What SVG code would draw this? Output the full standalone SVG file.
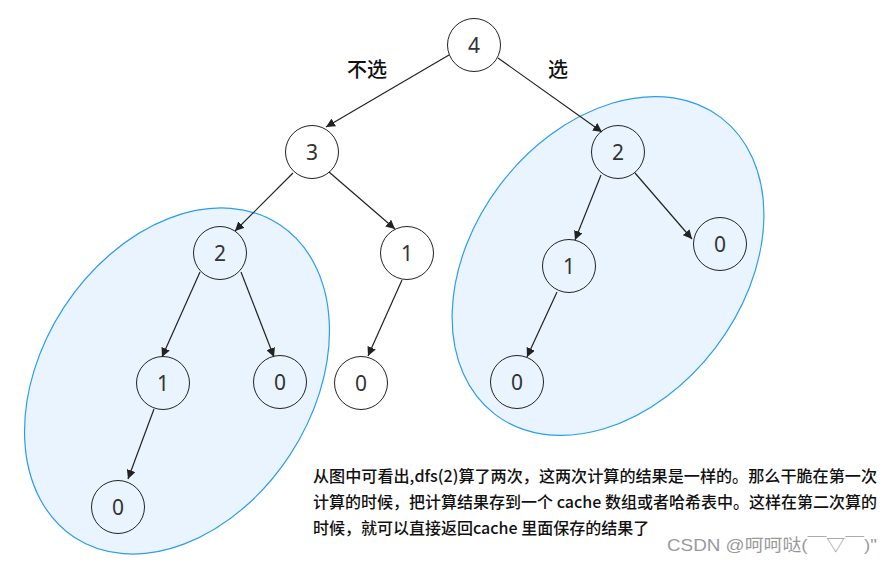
<svg xmlns="http://www.w3.org/2000/svg" width="894" height="565" viewBox="0 0 894 565">
<defs>
<marker id="ah" viewBox="0 0 10 10" refX="10" refY="5" markerWidth="9" markerHeight="9" markerUnits="userSpaceOnUse" orient="auto">
<path d="M0,0 L10,5 L0,10 z" fill="#222"/>
</marker>
</defs>
<style>
.grp{fill:#eaf4fe;stroke:#2a9df0;stroke-width:1.2}
.node circle{fill:none;stroke:#222;stroke-width:1}
.node text{font-family:"Noto Sans","Open Sans",sans-serif;font-size:21px;fill:#333;text-anchor:middle;dominant-baseline:central}
.edge{stroke:#222;stroke-width:1.2;fill:none;marker-end:url(#ah)}
.lbl{font-family:"Noto Sans CJK SC",sans-serif;font-size:20px;font-weight:500;fill:#111}
.para{font-family:"Noto Sans CJK SC",sans-serif;font-size:16px;font-weight:500;fill:#111}
.wm{font-family:"Liberation Sans","Noto Sans CJK SC",sans-serif;font-size:17px;fill:#9a9a9a}
</style>
<rect width="894" height="565" fill="#fff"/>
<g id="groups">
<ellipse class="grp" cx="177" cy="381" rx="187" ry="135" transform="rotate(-56.8 177 381)"/>
<ellipse class="grp" cx="608" cy="266" rx="186.5" ry="135" transform="rotate(-52.7 608 266)"/>
</g>
<g id="connectors">
<line class="edge" x1="449" y1="55" x2="326" y2="127"/>
<line class="edge" x1="498" y1="58" x2="602" y2="132"/>
<line class="edge" x1="293" y1="173" x2="235" y2="231"/>
<line class="edge" x1="329" y1="172" x2="395" y2="229"/>
<line class="edge" x1="402" y1="280" x2="368" y2="356"/>
<line class="edge" x1="200" y1="272" x2="162" y2="357"/>
<line class="edge" x1="241" y1="272" x2="274" y2="357"/>
<line class="edge" x1="154" y1="409" x2="128" y2="479"/>
<line class="edge" x1="601" y1="175" x2="575" y2="240"/>
<line class="edge" x1="635" y1="173" x2="692" y2="239"/>
<line class="edge" x1="557" y1="292" x2="527" y2="357"/>
</g>
<g id="n4" class="node"><circle cx="474" cy="45" r="26.5"/><text x="474" y="45">4</text></g>
<g id="n3" class="node"><circle cx="312" cy="152" r="26.5"/><text x="312" y="152">3</text></g>
<g id="n2L" class="node"><circle cx="220" cy="253" r="26.5"/><text x="220" y="253">2</text></g>
<g id="n1M" class="node"><circle cx="407" cy="253" r="26.5"/><text x="407" y="253">1</text></g>
<g id="n1L" class="node"><circle cx="163" cy="383" r="26.5"/><text x="163" y="383">1</text></g>
<g id="n0L" class="node"><circle cx="280" cy="382" r="26.5"/><text x="280" y="382">0</text></g>
<g id="n0M" class="node"><circle cx="361" cy="383" r="26.5"/><text x="361" y="383">0</text></g>
<g id="n0LL" class="node"><circle cx="118" cy="507" r="26.5"/><text x="118" y="507">0</text></g>
<g id="n2R" class="node"><circle cx="618" cy="152" r="26.5"/><text x="618" y="152">2</text></g>
<g id="n0R" class="node"><circle cx="720" cy="244" r="26.5"/><text x="720" y="244">0</text></g>
<g id="n1R" class="node"><circle cx="569" cy="266" r="26.5"/><text x="569" y="266">1</text></g>
<g id="n0RL" class="node"><circle cx="517" cy="382" r="26.5"/><text x="517" y="382">0</text></g>
<text class="lbl" x="347" y="77">不选</text>
<text class="lbl" x="548" y="77">选</text>
<text class="para" x="313" y="482" textLength="564" lengthAdjust="spacingAndGlyphs">从图中可看出,dfs(2)算了两次，这两次计算的结果是一样的。那么干脆在第一次</text>
<text class="para" x="313" y="508" textLength="564" lengthAdjust="spacingAndGlyphs">计算的时候，把计算结果存到一个 cache 数组或者哈希表中。这样在第二次算的</text>
<text class="para" x="313" y="534">时候，就可以直接返回cache 里面保存的结果了</text>
<text class="wm" x="667" y="551" textLength="210" lengthAdjust="spacingAndGlyphs">CSDN @呵呵哒(￣▽￣)"</text>
</svg>
